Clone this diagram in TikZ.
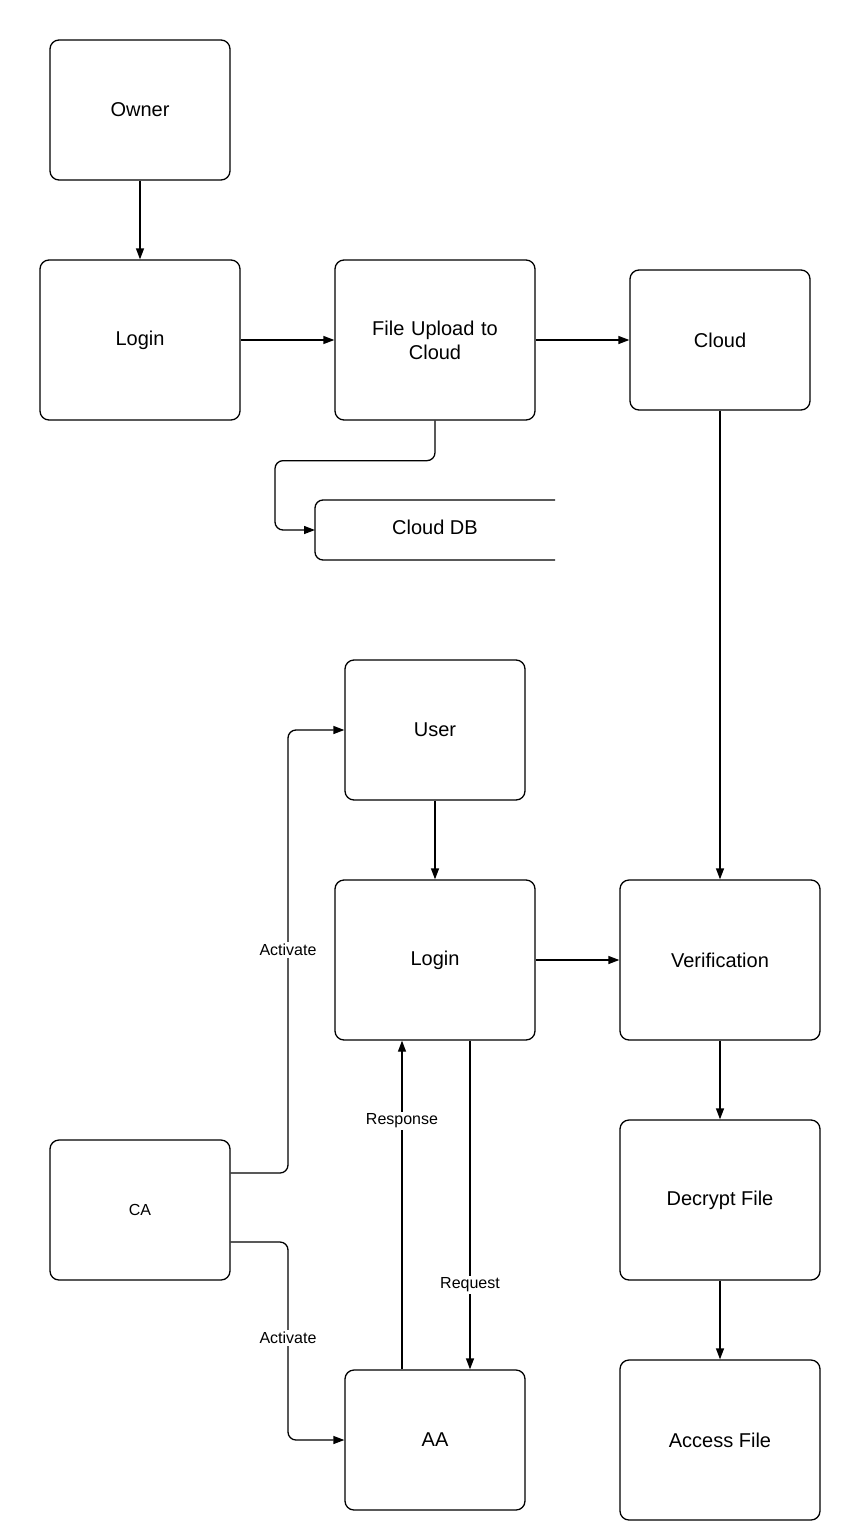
\documentclass[tikz,border=0pt]{standalone}
\usepackage{fontspec}
\setmainfont{Liberation Sans}
\usetikzlibrary{arrows.meta}
\tikzset{
    box/.style={draw, line width=1.3pt, rounded corners=9pt, align=center,
        font=\fontsize{20}{24}\selectfont},
    flow/.style={line width=1.3pt, -{Triangle[length=11pt,width=8pt]}, rounded corners=8pt},
    lbl/.style={fill=white, inner sep=2pt, font=\fontsize{16}{19}\selectfont},
}
\begin{document}
\begin{tikzpicture}[x=1pt,y=-1pt]
    \useasboundingbox (0,0) rectangle (860,1536);
    % owner side
    \node[box, minimum width=180pt, minimum height=140pt] (owner) at (140,110) {Owner};
    \node[box, minimum width=200pt, minimum height=160pt] (login1) at (140,340) {Login};
    \node[box, minimum width=200pt, minimum height=160pt, text width=170pt] (upload) at (435,340) {File Upload to\\Cloud};
    \node[box, minimum width=180pt, minimum height=140pt] (cloud) at (720,340) {Cloud};
    % data store, open on the right
    \draw[line width=1.3pt, rounded corners=8pt] (555,500) -- (315,500) -- (315,560) -- (555,560);
    \coordinate (dbw) at (315,530);
    \node[font=\fontsize{20}{24}\selectfont] (db) at (435,527) {Cloud DB};
    % user side
    \node[box, minimum width=180pt, minimum height=140pt] (user) at (435,730) {User};
    \node[box, minimum width=200pt, minimum height=160pt] (login2) at (435,960) {Login};
    \node[box, minimum width=200pt, minimum height=160pt] (verif) at (720,960) {Verification};
    \node[box, minimum width=200pt, minimum height=160pt] (decrypt) at (720,1200) {Decrypt File};
    \node[box, minimum width=200pt, minimum height=160pt] (access) at (720,1440) {Access File};
    \node[box, minimum width=180pt, minimum height=140pt, font=\fontsize{16}{19}\selectfont] (ca) at (140,1210) {CA};
    \node[box, minimum width=180pt, minimum height=140pt] (aa) at (435,1440) {AA};

    \draw[flow] (owner) -- (login1);
    \draw[flow] (login1) -- (upload);
    \draw[flow] (upload) -- (cloud);
    \draw[flow] (upload.south) -- ++(0,40) -| (275,500) |- (dbw);
    \draw[flow] (cloud) -- (verif);
    \draw[flow] (user) -- (login2);
    \draw[flow] (login2) -- (verif);
    \draw[flow] (verif) -- (decrypt);
    \draw[flow] (decrypt) -- (access);
    \draw[flow] ([yshift=37pt]ca.east) -| (288,900) |- (user.west);
    \node[lbl] (act1) at (288,950) {Activate};
    \draw[flow] ([yshift=-32pt]ca.east) -| (288,1400) |- (aa.west);
    \node[lbl] (act2) at (288,1338) {Activate};
    \draw[flow] ([xshift=-33pt]aa.north) -- ([xshift=-33pt]login2.south);
    \node[lbl] (resp) at (402,1121) {Response};
    \draw[flow] ([xshift=35pt]login2.south) -- ([xshift=35pt]aa.north);
    \node[lbl] (req) at (470,1285) {Request};
\end{tikzpicture}
\end{document}
